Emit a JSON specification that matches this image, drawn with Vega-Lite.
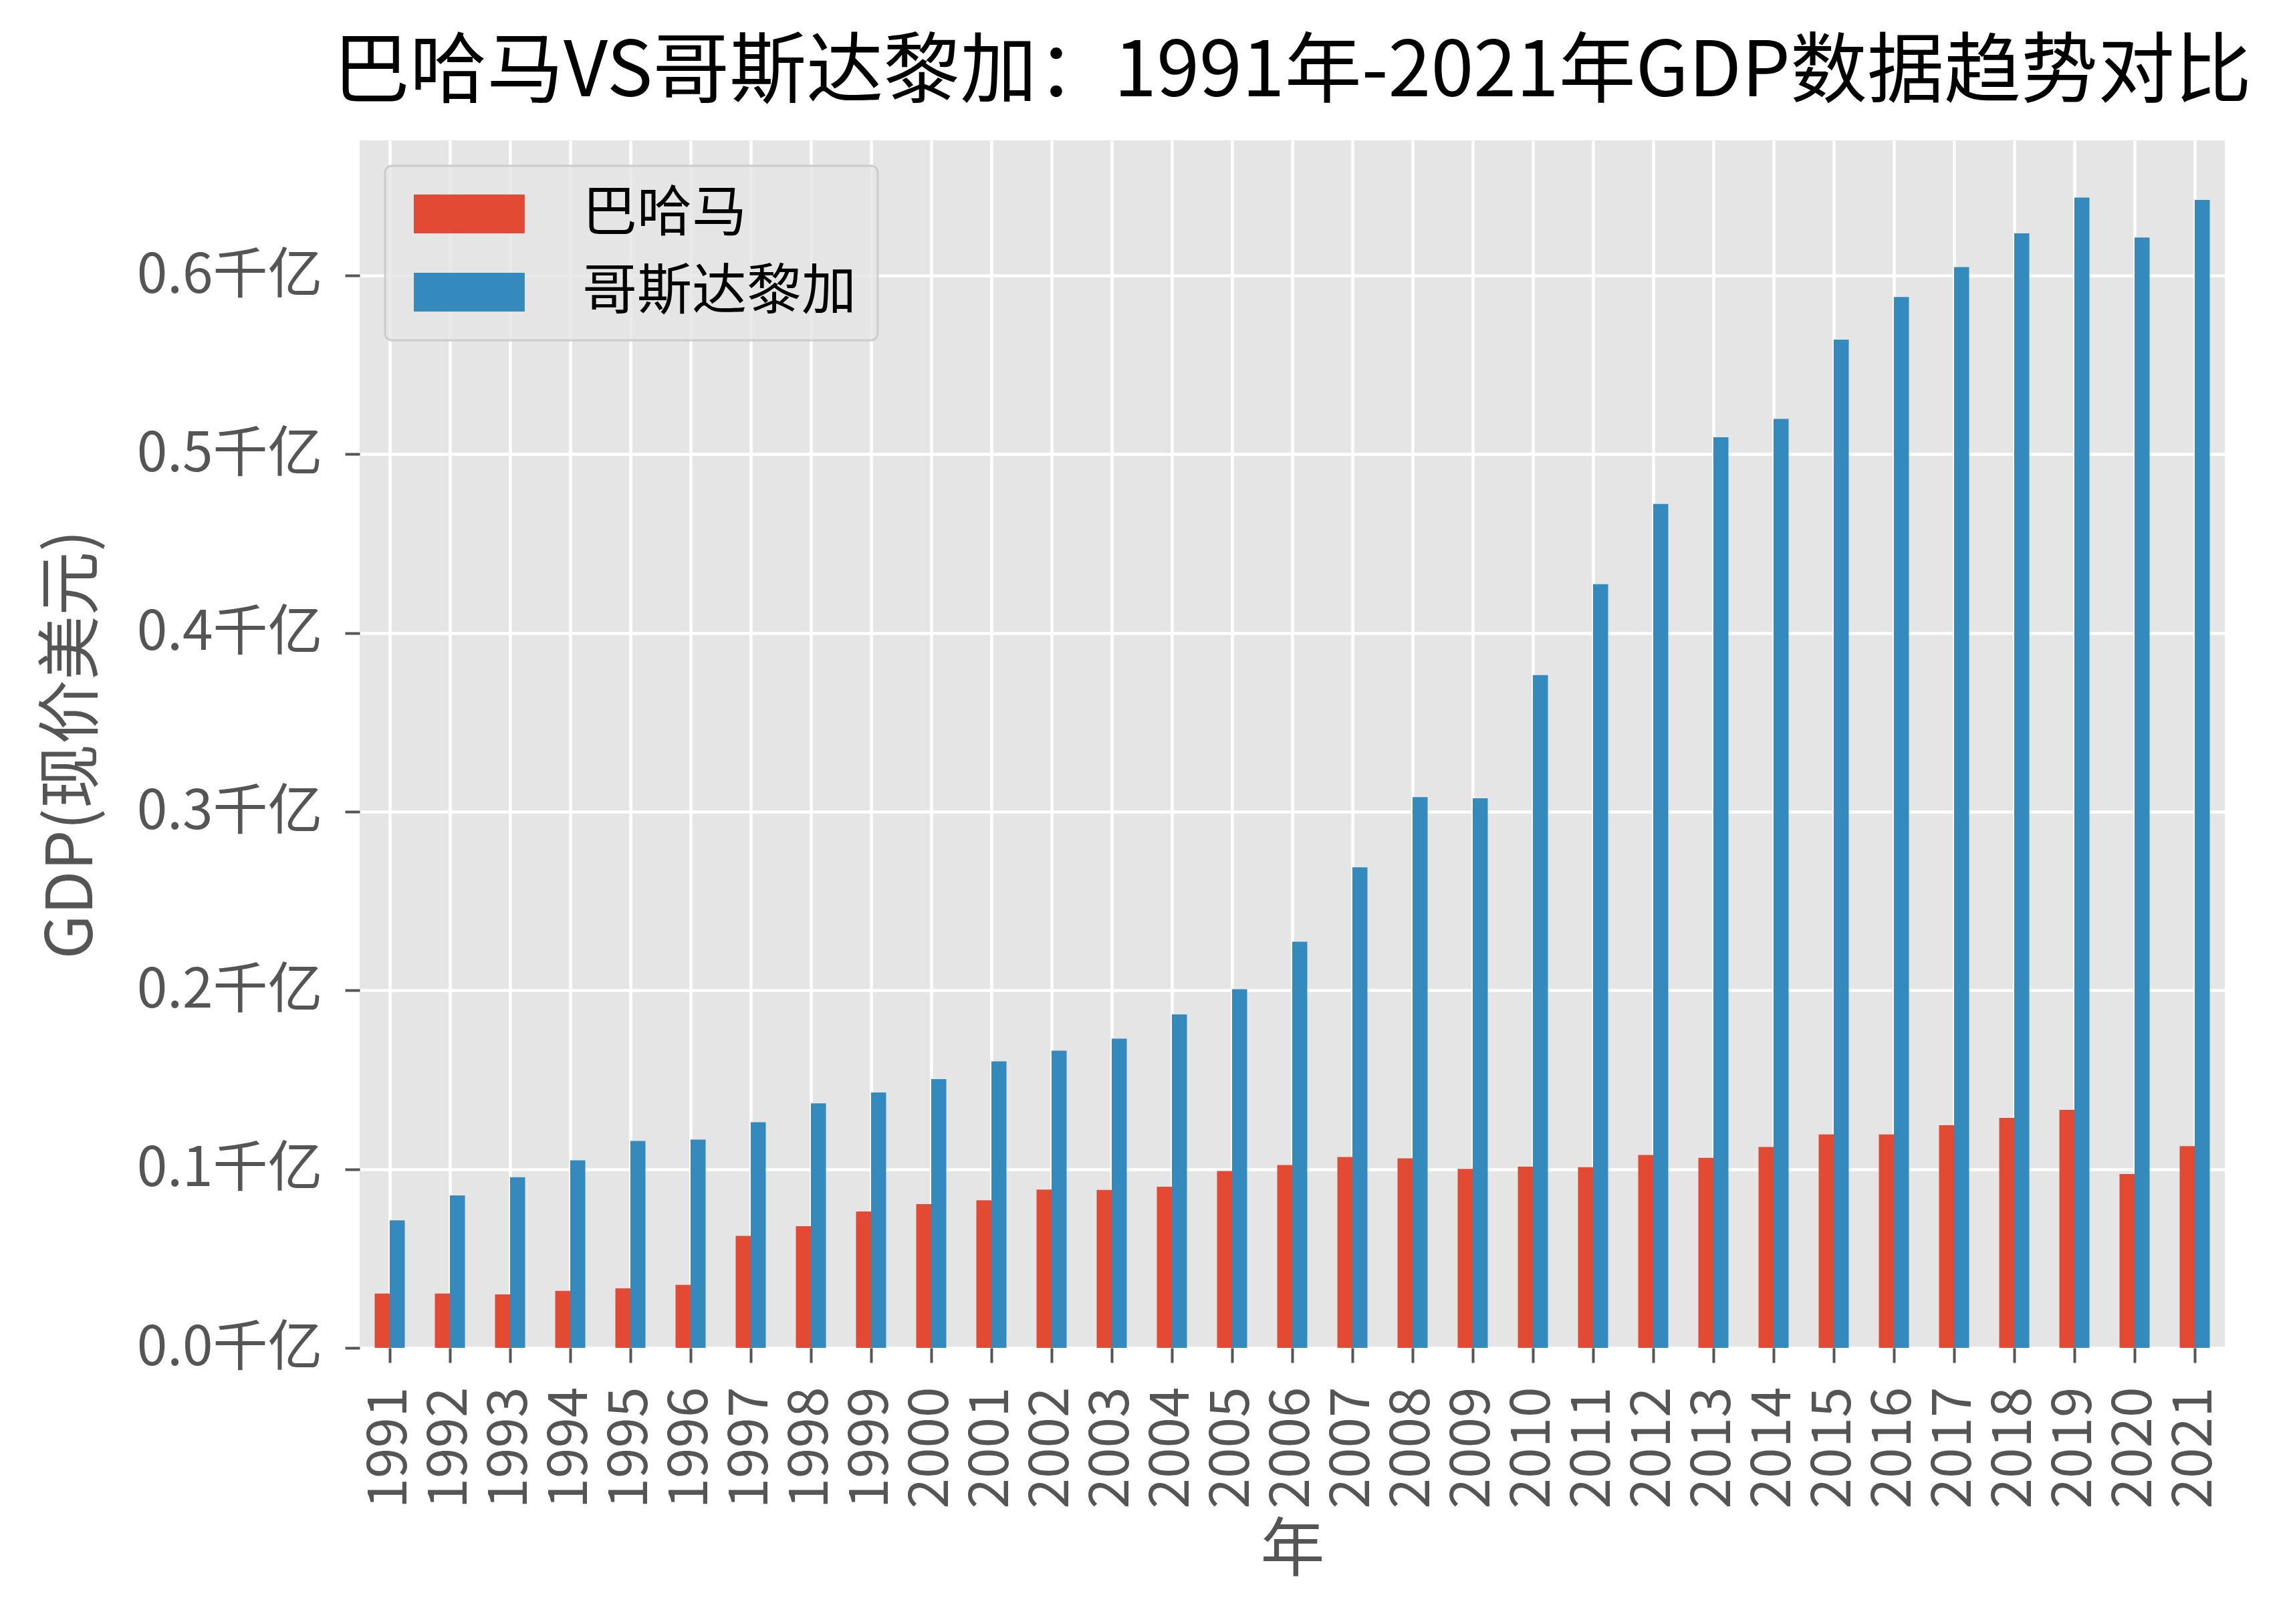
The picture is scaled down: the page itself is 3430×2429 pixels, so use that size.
{
  "$schema": "https://vega.github.io/schema/vega-lite/v6.json",
  "width": 2790,
  "height": 1806,
  "autosize": {"type": "none"},
  "padding": {"left": 538, "top": 210, "right": 102, "bottom": 413},
  "title": {
    "text": "巴哈马VS哥斯达黎加：1991年-2021年GDP数据趋势对比",
    "fontSize": 115,
    "font": "Noto Sans CJK SC",
    "fontWeight": "normal",
    "color": "#000000",
    "anchor": "middle",
    "offset": 42
  },
  "data": {
    "values": [
      {"year": "1991", "country": "巴哈马", "gdp": 0.0304},
      {"year": "1992", "country": "巴哈马", "gdp": 0.0304},
      {"year": "1993", "country": "巴哈马", "gdp": 0.0299},
      {"year": "1994", "country": "巴哈马", "gdp": 0.0319},
      {"year": "1995", "country": "巴哈马", "gdp": 0.0333},
      {"year": "1996", "country": "巴哈马", "gdp": 0.0353},
      {"year": "1997", "country": "巴哈马", "gdp": 0.0627},
      {"year": "1998", "country": "巴哈马", "gdp": 0.0681},
      {"year": "1999", "country": "巴哈马", "gdp": 0.0763},
      {"year": "2000", "country": "巴哈马", "gdp": 0.0804},
      {"year": "2001", "country": "巴哈马", "gdp": 0.0826},
      {"year": "2002", "country": "巴哈马", "gdp": 0.0886},
      {"year": "2003", "country": "巴哈马", "gdp": 0.0884},
      {"year": "2004", "country": "巴哈马", "gdp": 0.0902},
      {"year": "2005", "country": "巴哈马", "gdp": 0.0989},
      {"year": "2006", "country": "巴哈马", "gdp": 0.1023},
      {"year": "2007", "country": "巴哈马", "gdp": 0.1068},
      {"year": "2008", "country": "巴哈马", "gdp": 0.1061},
      {"year": "2009", "country": "巴哈马", "gdp": 0.1002},
      {"year": "2010", "country": "巴哈马", "gdp": 0.1014},
      {"year": "2011", "country": "巴哈马", "gdp": 0.1011},
      {"year": "2012", "country": "巴哈马", "gdp": 0.1079},
      {"year": "2013", "country": "巴哈马", "gdp": 0.1063},
      {"year": "2014", "country": "巴哈马", "gdp": 0.1124},
      {"year": "2015", "country": "巴哈马", "gdp": 0.1194},
      {"year": "2016", "country": "巴哈马", "gdp": 0.1194},
      {"year": "2017", "country": "巴哈马", "gdp": 0.1246},
      {"year": "2018", "country": "巴哈马", "gdp": 0.1287},
      {"year": "2019", "country": "巴哈马", "gdp": 0.1332},
      {"year": "2020", "country": "巴哈马", "gdp": 0.0973},
      {"year": "2021", "country": "巴哈马", "gdp": 0.1129},
      {"year": "1991", "country": "哥斯达黎加", "gdp": 0.0714},
      {"year": "1992", "country": "哥斯达黎加", "gdp": 0.0853},
      {"year": "1993", "country": "哥斯达黎加", "gdp": 0.0955},
      {"year": "1994", "country": "哥斯达黎加", "gdp": 0.1049},
      {"year": "1995", "country": "哥斯达黎加", "gdp": 0.1158},
      {"year": "1996", "country": "哥斯达黎加", "gdp": 0.1165},
      {"year": "1997", "country": "哥斯达黎加", "gdp": 0.1263},
      {"year": "1998", "country": "哥斯达黎加", "gdp": 0.1368},
      {"year": "1999", "country": "哥斯达黎加", "gdp": 0.1429},
      {"year": "2000", "country": "哥斯达黎加", "gdp": 0.1504},
      {"year": "2001", "country": "哥斯达黎加", "gdp": 0.1603},
      {"year": "2002", "country": "哥斯达黎加", "gdp": 0.1663},
      {"year": "2003", "country": "哥斯达黎加", "gdp": 0.1730},
      {"year": "2004", "country": "哥斯达黎加", "gdp": 0.1866},
      {"year": "2005", "country": "哥斯达黎加", "gdp": 0.2007},
      {"year": "2006", "country": "哥斯达黎加", "gdp": 0.2273},
      {"year": "2007", "country": "哥斯达黎加", "gdp": 0.2689},
      {"year": "2008", "country": "哥斯达黎加", "gdp": 0.3082},
      {"year": "2009", "country": "哥斯达黎加", "gdp": 0.3075},
      {"year": "2010", "country": "哥斯达黎加", "gdp": 0.3764},
      {"year": "2011", "country": "哥斯达黎加", "gdp": 0.4273},
      {"year": "2012", "country": "哥斯达黎加", "gdp": 0.4722},
      {"year": "2013", "country": "哥斯达黎加", "gdp": 0.5095},
      {"year": "2014", "country": "哥斯达黎加", "gdp": 0.5198},
      {"year": "2015", "country": "哥斯达黎加", "gdp": 0.5641},
      {"year": "2016", "country": "哥斯达黎加", "gdp": 0.5880},
      {"year": "2017", "country": "哥斯达黎加", "gdp": 0.6047},
      {"year": "2018", "country": "哥斯达黎加", "gdp": 0.6236},
      {"year": "2019", "country": "哥斯达黎加", "gdp": 0.6436},
      {"year": "2020", "country": "哥斯达黎加", "gdp": 0.6213},
      {"year": "2021", "country": "哥斯达黎加", "gdp": 0.6423}
    ]
  },
  "mark": {"type": "bar"},
  "encoding": {
    "x": {
      "field": "year",
      "type": "nominal",
      "scale": {"paddingInner": 0.5, "paddingOuter": 0.25},
      "axis": {
        "title": "年",
        "labelAngle": 270,
        "bandPosition": 0.5,
        "labelPadding": 36,
        "titleX": 1395,
        "titleY": 303,
        "titleAlign": "center",
        "titleBaseline": "middle"
      }
    },
    "xOffset": {
      "field": "country",
      "type": "nominal",
      "scale": {"domain": ["巴哈马", "哥斯达黎加"], "paddingInner": 0, "paddingOuter": 0}
    },
    "y": {
      "field": "gdp",
      "type": "quantitative",
      "scale": {"domain": [0, 0.6756], "nice": false, "zero": true},
      "axis": {
        "title": "GDP(现价美元)",
        "values": [0, 0.1, 0.2, 0.3, 0.4, 0.5, 0.6],
        "labelExpr": "format(datum.value, '.1f') + '千亿'",
        "labelPadding": 34,
        "titleX": -430,
        "titleY": 903,
        "titleAngle": 270,
        "titleAlign": "center",
        "titleBaseline": "middle"
      }
    },
    "color": {
      "field": "country",
      "type": "nominal",
      "scale": {"domain": ["巴哈马", "哥斯达黎加"], "range": ["#E24A33", "#348ABD"]},
      "legend": {
        "title": null,
        "orient": "top-left",
        "offset": 38
      }
    }
  },
  "config": {
    "font": "Noto Sans CJK SC",
    "background": "#ffffff",
    "view": {"fill": "#E5E5E5", "stroke": null},
    "axis": {
      "domain": false,
      "grid": true,
      "gridColor": "#ffffff",
      "gridWidth": 4.5,
      "tickColor": "#555555",
      "tickSize": 22,
      "tickWidth": 4,
      "labelColor": "#555555",
      "labelFont": "Noto Sans CJK SC",
      "labelFontSize": 82,
      "labelLimit": 2000,
      "labelOverlap": false,
      "titleColor": "#555555",
      "titleFont": "Noto Sans CJK SC",
      "titleFontSize": 96,
      "titleFontWeight": "normal",
      "titleLimit": 3000
    },
    "legend": {
      "padding": 31,
      "fillColor": "rgba(229,229,229,0.8)",
      "strokeColor": "#CCCCCC",
      "strokeWidth": 3,
      "cornerRadius": 10,
      "symbolType": "M-1,-1L4.72,-1L4.72,1L-1,1Z",
      "symbolSize": 3364,
      "symbolStrokeWidth": 0,
      "symbolOpacity": 1,
      "labelOffset": 182,
      "labelFontSize": 82,
      "labelLimit": 2000,
      "labelColor": "#000000",
      "labelFont": "Noto Sans CJK SC",
      "rowPadding": 35
    }
  }
}
